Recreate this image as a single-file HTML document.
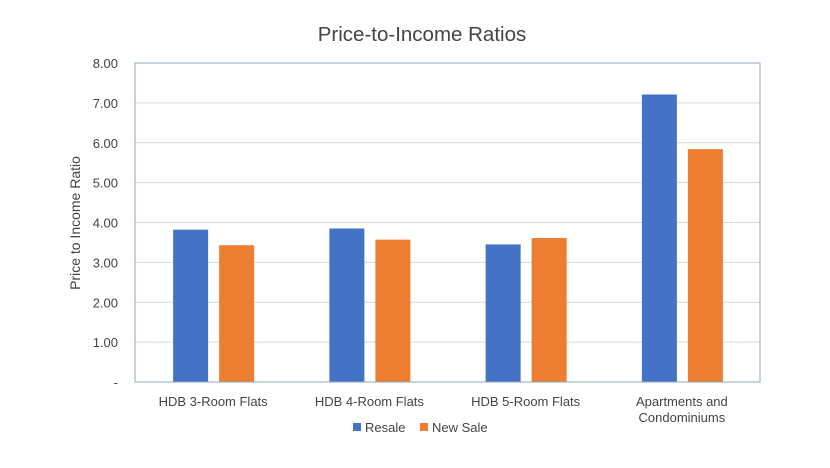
<!DOCTYPE html>
<html><head><meta charset="utf-8"><style>
body{margin:0;background:#fff;}
svg{display:block;font-family:"Liberation Sans",sans-serif;}
</style></head><body>
<svg id="chart" width="830" height="468" viewBox="0 0 830 468">
<text x="422" y="41" text-anchor="middle" font-size="20.5" fill="#444">Price-to-Income Ratios</text>
<text transform="translate(80,223) rotate(-90)" text-anchor="middle" font-size="14" fill="#444">Price to Income Ratio</text>
<g id="grid"></g><g id="bars"></g><g id="labels"></g>
<rect x="135" y="63" width="625" height="319" fill="none" stroke="#8fa7bd" stroke-width="1"/>
<g>
<rect x="353" y="423" width="8" height="8" fill="#4472c4"/>
<text x="365" y="432" font-size="13" fill="#444">Resale</text>
<rect x="420" y="423" width="8" height="8" fill="#ed7d31"/>
<text x="432" y="432" font-size="13" fill="#444">New Sale</text>
</g>
</svg>
<script>
const categories=[["HDB 3-Room Flats"],["HDB 4-Room Flats"],["HDB 5-Room Flats"],["Apartments and","Condominiums"]];
const resale=[3.82,3.85,3.45,7.21];
const newSale=[3.43,3.57,3.61,5.84];
const ticks=[0,1,2,3,4,5,6,7,8];
const tickLabels=["-","1.00","2.00","3.00","4.00","5.00","6.00","7.00","8.00"];
const NS="http://www.w3.org/2000/svg";
const L=135,R=760,T=63,B=382,ymax=8;
const y=v=>B-(v/ymax)*(B-T);
const cw=(R-L)/categories.length;
const cx=i=>L+cw*(i+0.5);
function mk(t,a,p){const e=document.createElementNS(NS,t);for(const k in a)e.setAttribute(k,a[k]);document.getElementById(p).appendChild(e);return e;}
ticks.forEach((t,i)=>{
 if(t>0&&t<ymax){const g=mk('line',{x1:L,x2:R,y1:y(t),y2:y(t),stroke:'#d9d9d9'},'grid');
 
 }
 const tx=mk('text',{x:118,y:y(t)+5,'text-anchor':'end','font-size':13,fill:'#444'},'labels');
 tx.textContent=tickLabels[i];
 
 
});
categories.forEach((c,i)=>{
 const b1=mk('rect',{x:cx(i)-40,y:y(resale[i]),width:35,height:B-y(resale[i]),fill:'#4472c4'},'bars');
 
 
 const b2=mk('rect',{x:cx(i)+6,y:y(newSale[i]),width:35,height:B-y(newSale[i]),fill:'#ed7d31'},'bars');
 
 
 c.forEach((line,j)=>{
  const t=mk('text',{x:cx(i),y:406+j*16,'text-anchor':'middle','font-size':13,fill:'#444'},'labels');
  t.textContent=line;
  
  
 });
});
</script>
</body></html>
